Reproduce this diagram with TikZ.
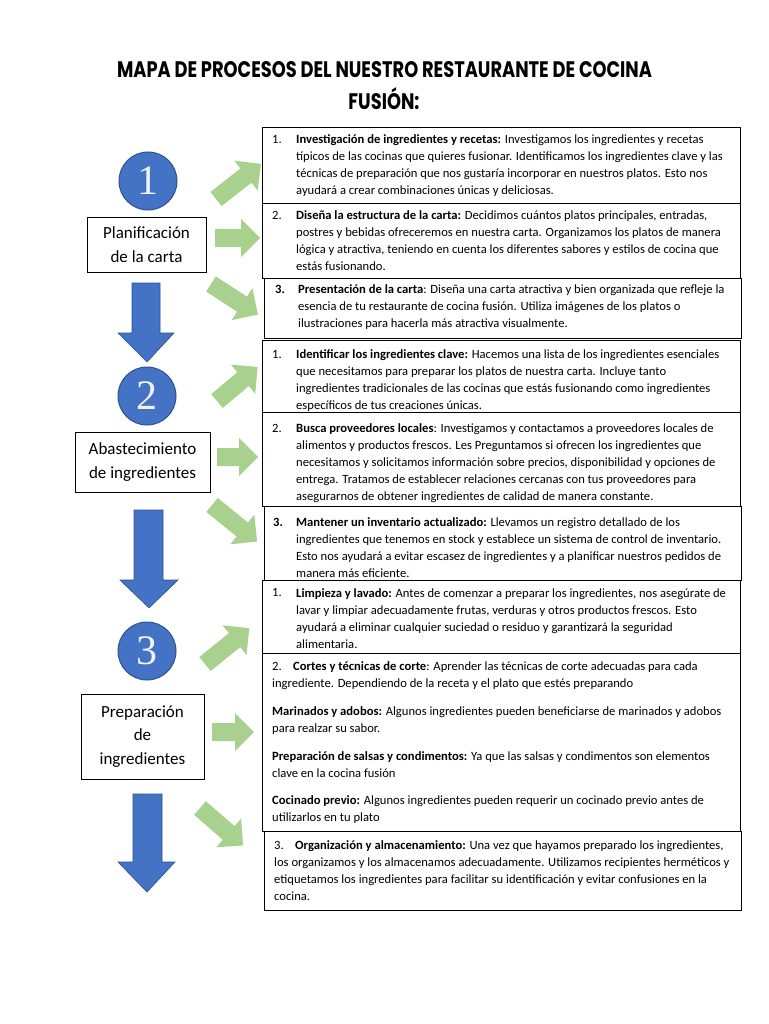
\documentclass[tikz,border=0pt]{standalone}
\usepackage{fontspec}
\setmainfont{Carlito}
\newfontfamily\titlefont{Poppins}
\newfontfamily\numfont{Liberation Serif}
\definecolor{gfill}{HTML}{A9D18E}
\definecolor{bfill}{HTML}{4472C4}
\definecolor{bline}{HTML}{2F528F}
\definecolor{numtxt}{HTML}{F2F2F2}
\newlength\titlew
\newlength\titleh
\newcommand\titletext{\titlefont\bfseries\fontsize{20}{20}\selectfont MAPA DE PROCESOS DEL NUESTRO RESTAURANTE DE COCINA}
\begin{document}
\settowidth\titlew{\titletext}%
\settoheight\titleh{\titletext}%
\pgfmathsetmacro\tsx{535/\titlew}%
\pgfmathsetmacro\tsy{16/\titleh}%
\begin{tikzpicture}[x=1pt,y=-1pt,
  rbox/.style={draw=black, line width=1.1pt, inner sep=0pt, anchor=north west},
  lbox/.style={draw=black, line width=0.9pt, inner sep=0pt, align=center,
    font=\fontsize{17}{23.5}\selectfont},
  circ/.style={circle, fill=bfill, draw=bline, line width=1pt, minimum size=58pt,
    inner sep=0pt, text=numtxt, font=\numfont\fontsize{42}{42}\selectfont},
  txt/.style={anchor=base west, inner sep=0pt, align=left,
    font=\fontsize{12.6}{17}\selectfont},
  bluearrow/.style={fill=bfill, draw=bline, line width=0.6pt},
  pics/garrow/.style={code={
    \fill[gfill] (0,-9) -- (#1-19,-9) -- (#1-19,-19) -- (#1,0) -- (#1-19,19)
      -- (#1-19,9) -- (0,9) -- cycle;}}
]
\useasboundingbox (0,0) rectangle (768,1024);
\fill[white] (0,0) rectangle (768,1024);

% ---------- title ----------
\node[anchor=base, inner sep=0pt] (title1) at (384.5,78)
  {\scalebox{\tsx}[\tsy]{\titletext}};
\node[anchor=base, inner sep=0pt] (title2) at (384,110)
  {\scalebox{\tsx}[\tsy]{\titlefont\bfseries\fontsize{20}{20}\selectfont FUSIÓN:}};

% ---------- right boxes ----------
\node[rbox, minimum width=478pt, minimum height=76pt] (b1) at (262,127) {};
\node[rbox, minimum width=478pt, minimum height=75pt] (b2) at (262,203) {};
\node[rbox, minimum width=477pt, minimum height=60pt] (b3) at (264,278) {};
\node[rbox, minimum width=478pt, minimum height=72pt] (b4) at (262,340) {};
\node[rbox, minimum width=478pt, minimum height=94pt] (b5) at (262,412) {};
\node[rbox, minimum width=477pt, minimum height=74pt] (b6) at (264,506) {};
\node[rbox, minimum width=478pt, minimum height=73pt] (b7) at (262,580) {};
\node[rbox, minimum width=478pt, minimum height=178pt] (b8) at (262,653) {};
\node[rbox, minimum width=477pt, minimum height=79pt] (b9) at (264,831) {};

% ---------- box texts (base anchor = baseline of last line) ----------
\node[txt] (n1) at (272,144) {1.};
\node[txt] (t1) at (296,195) {\textbf{Investigación de ingredientes y recetas:} Investigamos los ingredientes y recetas\\
típicos de las cocinas que quieres fusionar. Identificamos los ingredientes clave y las\\
técnicas de preparación que nos gustaría incorporar en nuestros platos. Esto nos\\
ayudará a crear combinaciones únicas y deliciosas.};

\node[txt] (n2) at (272,219) {2.};
\node[txt] (t2) at (296,270) {\textbf{Diseña la estructura de la carta:} Decidimos cuántos platos principales, entradas,\\
postres y bebidas ofreceremos en nuestra carta. Organizamos los platos de manera\\
lógica y atractiva, teniendo en cuenta los diferentes sabores y estilos de cocina que\\
estás fusionando.};

\node[txt] (n3) at (275,293) {\textbf{3.}};
\node[txt] (t3) at (298,327) {\textbf{Presentación de la carta}: Diseña una carta atractiva y bien organizada que refleje la\\
esencia de tu restaurante de cocina fusión. Utiliza imágenes de los platos o\\
ilustraciones para hacerla más atractiva visualmente.};

\node[txt] (n4) at (272,358) {1.};
\node[txt] (t4) at (296,409) {\textbf{Identificar los ingredientes clave:} Hacemos una lista de los ingredientes esenciales\\
que necesitamos para preparar los platos de nuestra carta. Incluye tanto\\
ingredientes tradicionales de las cocinas que estás fusionando como ingredientes\\
específicos de tus creaciones únicas.};

\node[txt] (n5) at (272,432) {2.};
\node[txt] (t5) at (296,500) {\textbf{Busca proveedores locales}: Investigamos y contactamos a proveedores locales de\\
alimentos y productos frescos. Les Preguntamos si ofrecen los ingredientes que\\
necesitamos y solicitamos información sobre precios, disponibilidad y opciones de\\
entrega. Tratamos de establecer relaciones cercanas con tus proveedores para\\
asegurarnos de obtener ingredientes de calidad de manera constante.};

\node[txt] (n6) at (273,526) {\textbf{3.}};
\node[txt] (t6) at (296,577) {\textbf{Mantener un inventario actualizado:} Llevamos un registro detallado de los\\
ingredientes que tenemos en stock y establece un sistema de control de inventario.\\
Esto nos ayudará a evitar escasez de ingredientes y a planificar nuestros pedidos de\\
manera más eficiente.};

\node[txt] (n7) at (272,596) {1.};
\node[txt] (t7) at (296,648) {\textbf{Limpieza y lavado:} Antes de comenzar a preparar los ingredientes, nos asegúrate de\\
lavar y limpiar adecuadamente frutas, verduras y otros productos frescos. Esto\\
ayudará a eliminar cualquier suciedad o residuo y garantizará la seguridad\\
alimentaria.};

\node[txt] (t8a) at (272,687) {\makebox[21pt][l]{2.}\textbf{Cortes y técnicas de corte}: Aprender las técnicas de corte adecuadas para cada\\
ingrediente. Dependiendo de la receta y el plato que estés preparando};
\node[txt] (t8b) at (272,732) {\textbf{Marinados y adobos:} Algunos ingredientes pueden beneficiarse de marinados y adobos\\
para realzar su sabor.};
\node[txt] (t8c) at (272,777) {\textbf{Preparación de salsas y condimentos:} Ya que las salsas y condimentos son elementos\\
clave en la cocina fusión};
\node[txt] (t8d) at (272,821) {\textbf{Cocinado previo:} Algunos ingredientes pueden requerir un cocinado previo antes de\\
utilizarlos en tu plato};

\node[txt] (t9) at (274,900) {\makebox[21pt][l]{3.}\textbf{Organización y almacenamiento:} Una vez que hayamos preparado los ingredientes,\\
los organizamos y los almacenamos adecuadamente. Utilizamos recipientes herméticos y\\
etiquetamos los ingredientes para facilitar su identificación y evitar confusiones en la\\
cocina.};

% ---------- left column ----------
\node[circ] (c1) at (148,181) {1};
\node[circ] (c2) at (147,396) {2};
\node[circ] (c3) at (147,651) {3};

\node[lbox, minimum width=119pt, minimum height=55pt] (l1) at (146.5,244.5) {Planificación\\de la carta};
\node[lbox, minimum width=135pt, minimum height=60pt] (l2) at (142.5,462) {Abastecimiento\\de ingredientes};
\node[lbox, minimum width=123pt, minimum height=85pt] (l3) at (142.5,736.5) {Preparación\\de\\ingredientes};

% blue down arrows
\path[bluearrow] (132,283) -- (160,283) -- (160,333) -- (174,333) -- (147,362)
  -- (118,333) -- (132,333) -- cycle;
\path[bluearrow] (134,510) -- (163,510) -- (163,580) -- (178,580) -- (149,608)
  -- (120,580) -- (134,580) -- cycle;
\path[bluearrow] (133,794) -- (162,794) -- (162,862) -- (175,862) -- (147,892)
  -- (118,862) -- (133,862) -- cycle;

% green arrows
\pic[rotate=38] (g1) at (216,199) {garrow=57};
\pic (g2) at (215,238) {garrow=45};
\pic[rotate=-33] (g3) at (211,284) {garrow=56};
\pic[rotate=40] (g4) at (217,401) {garrow=53};
\pic (g5) at (217,457) {garrow=41};
\pic[rotate=-39] (g6) at (212,505) {garrow=58};
\pic[rotate=39] (g7) at (205,664) {garrow=57};
\pic (g8) at (212,732) {garrow=42};
\pic[rotate=-41] (g9) at (200,808) {garrow=57};
\end{tikzpicture}
\end{document}
